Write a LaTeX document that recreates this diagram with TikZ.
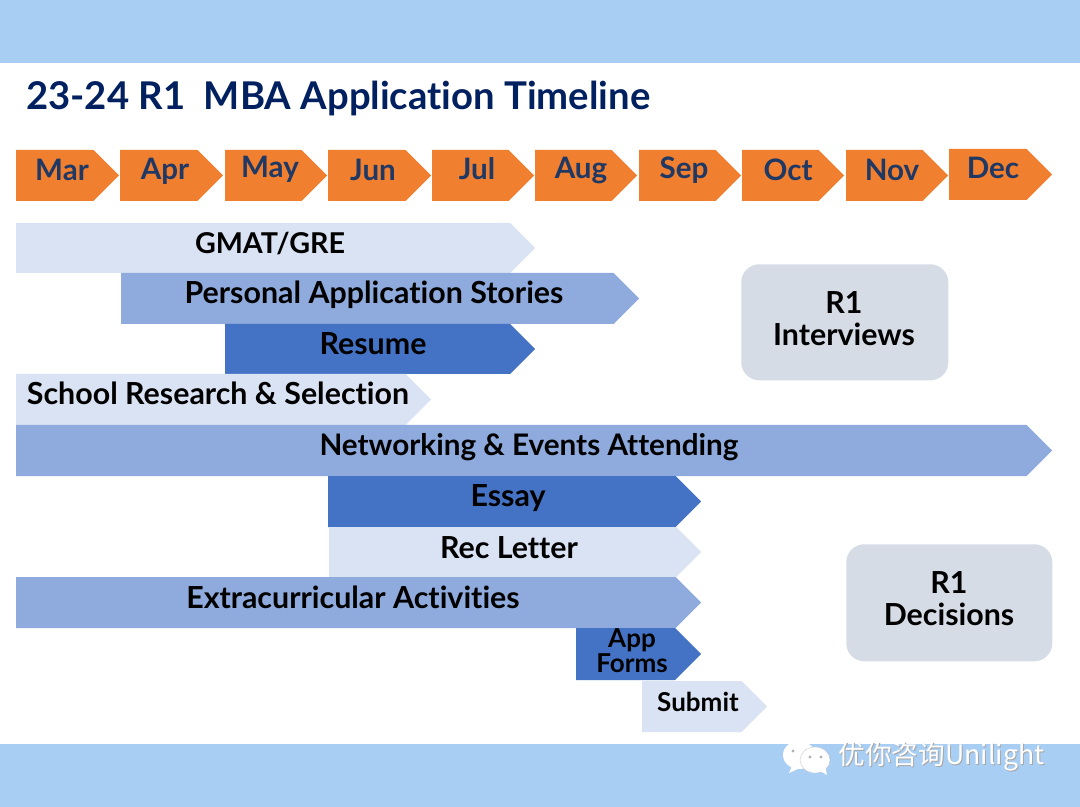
\documentclass[tikz,border=0pt]{standalone}
\usepackage{fontspec}
\setmainfont{Lato}[Ligatures=CommonOff]
\newfontfamily\cjkfont{Noto Sans CJK SC}
\usepackage{tikz}
\definecolor{bandblue}{HTML}{A9CEF4}
\definecolor{monthorange}{HTML}{F07F2F}
\definecolor{navytitle}{HTML}{002060}
\definecolor{navymonth}{HTML}{1F3864}
\definecolor{barlight}{HTML}{DAE3F3}
\definecolor{barmid}{HTML}{8FAADC}
\definecolor{bardark}{HTML}{4472C4}
\definecolor{boxgrey}{HTML}{D6DCE5}
\tikzset{
    bartext/.style = {font=\bfseries\fontsize{21.6}{21.6}\selectfont, text=black, inner sep=0pt, align=center},
    monthtext/.style = {font=\bfseries\fontsize{21}{21}\selectfont, text=navymonth, inner sep=0pt},
    endbox/.style = {fill=boxgrey, rounded corners=0.45cm, inner sep=0pt, anchor=north west}
}
% #1 name, #2 left, #3 right, #4 top, #5 bottom, #6 colour
\newcommand{\timebar}[6]{
    \fill[#6] (#2,#4) -- ({#3-0.5*(#5-#4)},#4) -- (#3,{0.5*(#4+#5)}) -- ({#3-0.5*(#5-#4)},#5) -- (#2,#5) -- cycle;
    \coordinate (#1) at (#2,{0.5*(#4+#5)});
}
\begin{document}
\begin{tikzpicture}[x=0.025cm, y=-0.025cm]
    \useasboundingbox (0,0) rectangle (1080,807);
    \fill[white] (0,0) rectangle (1080,807);
    % top and bottom bands
    \fill[bandblue] (0,0) rectangle (1080,63);
    \fill[bandblue] (0,744) rectangle (1080,807);

    \node[font=\bfseries\fontsize{27.2}{27.2}\selectfont, text=navytitle, inner sep=0pt, anchor=west] (title) at (26,98) {23-24 R1\ \ MBA Application Timeline};

    % months
    \foreach \name/\left/\right/\textx/\texty in {Mar/16/119/62/170, Apr/120/223/165/171, May/225/327/270/169, Jun/328/431/373/170, Jul/432/534/477/169, Aug/535/637/581/170, Sep/639/741/684/170, Oct/742/844/788/170, Nov/846/948/892/170}{
        \timebar{m\name}{\left}{\right}{150}{201}{monthorange}
        \node[monthtext] (t\name) at (\textx,\texty) {\name};
    }
    \timebar{mDec}{949}{1052}{149}{200}{monthorange}
    \node[monthtext] (tDec) at (993,168) {Dec};

    % tasks
    \timebar{gmat}{16}{535}{223}{273}{barlight}
    \timebar{stories}{121}{639}{273}{324}{barmid}
    \timebar{resume}{225}{535}{324}{374}{bardark}
    \timebar{school}{16}{431}{374}{425}{barlight}
    \timebar{network}{16}{1052}{425}{476}{barmid}
    \timebar{essay}{328}{701}{476}{527}{bardark}
    \timebar{rec}{329}{701}{527}{577}{barlight}
    \timebar{extra}{16}{701}{577}{628}{barmid}
    \timebar{forms}{576}{701}{628}{680}{bardark}
    \timebar{submit}{642}{767}{681}{732}{barlight}

    \node[bartext, font=\bfseries\fontsize{20.4}{20.4}\selectfont] (t1) at (270,244) {GMAT/GRE};
    \node[bartext] (t2) at (374,295) {Personal Application Stories};
    \node[bartext] (t3) at (373,344) {Resume};
    \node[bartext] (t4) at (218,393) {School Research \& Selection};
    \node[bartext, font=\bfseries\fontsize{21.1}{21.1}\selectfont] (t5) at (529,447) {Networking \& Events Attending};
    \node[bartext] (t6) at (508,498) {Essay};
    \node[bartext] (t7) at (509,548) {Rec Letter};
    \node[bartext] (t8) at (353,597) {Extracurricular Activities};
    \node[bartext, font=\bfseries\fontsize{18.5}{18}\selectfont] (t9) at (632,651) {App\\Forms};
    \node[bartext, font=\bfseries\fontsize{18.5}{18.5}\selectfont] (t10) at (698,702) {Submit};

    % results
    \node[endbox, minimum width=207*0.025cm, minimum height=116*0.025cm] (interviews) at (741,264) {};
    \node[bartext] at (844,318.5) {R1\\[1pt]Interviews};
    \node[endbox, minimum width=206*0.025cm, minimum height=117*0.025cm] (decisions) at (846,544) {};
    \node[bartext] at (949,598.5) {R1\\[1pt]Decisions};

    % watermark
    \fill[white] (799,755) ellipse (16 and 14);
    \fill[white] (792,766) -- (789,773) -- (800,768) -- cycle;
    \fill[gray!60] (793,751) circle (1.6) (806,751) circle (1.6);
    \fill[white, draw=gray!50, very thin] (815,760) ellipse (15 and 13);
    \fill[white] (820,771) -- (827,775) -- (825,766) -- cycle;
    \fill[gray!60] (810,757) circle (1.6) (821,757) circle (1.6);
    \node[font=\cjkfont\fontsize{19}{19}\selectfont, text=gray!70, inner sep=0pt, anchor=west] at (839,758) {优你咨询Unilight};
    \node[font=\cjkfont\fontsize{19}{19}\selectfont, text=white, inner sep=0pt, anchor=west] (mark) at (838,757) {优你咨询Unilight};
\end{tikzpicture}
\end{document}
